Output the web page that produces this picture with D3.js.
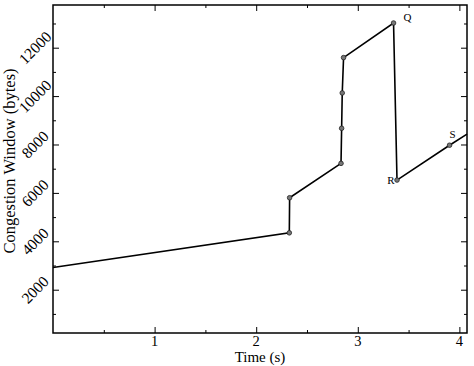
<!DOCTYPE html>
<html>
<head>
<meta charset="utf-8">
<script src="https://cdn.jsdelivr.net/npm/d3@7"></script>
<style>
  body { margin: 0; background: #fff; }
  svg text { font-family: "Liberation Serif", "Times New Roman", serif; fill: #000; }
</style>
</head>
<body>
<div id="container"></div>
<script>
// data
const times = [0, 2.326, 2.329, 2.835, 2.841, 2.847, 2.860, 3.352, 3.386, 3.903, 4.075];
const cwnd = [2920, 4350, 5800, 7220, 8670, 10130, 11590, 13020, 6530, 7970, 8430];
const marked = [1, 2, 3, 4, 5, 6, 7, 8, 9]; // indexes with a dot
const pointLabels = [
  { idx: 7, text: "Q", dx: 14, dy: -2 },
  { idx: 8, text: "R", dx: -6, dy: 4 },
  { idx: 9, text: "S", dx: 3, dy: -7 }
];
const xMajor = [1, 2, 3, 4];
const xMinor = [0.5, 1.5, 2.5, 3.5];
const yMajor = [2000, 4000, 6000, 8000, 10000, 12000];
const yMinor = [1000, 3000, 5000, 7000, 9000, 11000, 13000];

const W = 474, H = 366;
const pL = 53, pR = 467, pT = 5, pB = 333;

const x = d3.scaleLinear().domain([0, 4.075]).range([pL, pR]);
const y = d3.scaleLinear().domain([211, 13764]).range([pB, pT]);

const svg = d3.select("#container").append("svg")
  .attr("width", W).attr("height", H);

// frame
svg.append("rect")
  .attr("x", pL).attr("y", pT)
  .attr("width", pR - pL).attr("height", pB - pT)
  .attr("fill", "none").attr("stroke", "#000").attr("stroke-width", 1.5);

// ticks, all pointing inwards
const tickStyle = g => {
  g.select(".domain").remove();
  g.selectAll(".tick line").attr("stroke", "#000").attr("stroke-width", 1);
};
const tickSets = [
  [d3.axisTop, x, xMajor, 6, `translate(0,${pB})`],
  [d3.axisTop, x, xMinor, 3, `translate(0,${pB})`],
  [d3.axisBottom, x, xMajor, 6, `translate(0,${pT})`],
  [d3.axisBottom, x, xMinor, 3, `translate(0,${pT})`],
  [d3.axisRight, y, yMajor, 6, `translate(${pL},0)`],
  [d3.axisRight, y, yMinor, 3, `translate(${pL},0)`],
  [d3.axisLeft, y, yMajor, 6, `translate(${pR},0)`],
  [d3.axisLeft, y, yMinor, 3, `translate(${pR},0)`]
];
tickSets.forEach(([axis, scale, vals, size, tr]) => {
  svg.append("g").attr("transform", tr)
    .call(axis(scale).tickValues(vals).tickSize(size).tickFormat(""))
    .call(tickStyle);
});

// tick labels
svg.selectAll(".xlab").data(xMajor).enter().append("text")
  .attr("x", d => x(d)).attr("y", 346)
  .attr("text-anchor", "middle").attr("font-size", 14.5)
  .text(d => d);
svg.selectAll(".ylab").data(yMajor).enter().append("text")
  .attr("transform", d => `translate(35,${y(d)}) rotate(-45)`)
  .attr("text-anchor", "middle").attr("dy", "0.35em").attr("font-size", 15.5)
  .text(d => d);

// axis titles
svg.append("text").attr("x", (pL + pR) / 2).attr("y", 362)
  .attr("text-anchor", "middle").attr("font-size", 15).text("Time (s)");
svg.append("text")
  .attr("transform", `translate(15,161) rotate(-90)`)
  .attr("text-anchor", "middle").attr("font-size", 16.5)
  .text("Congestion Window (bytes)");

// series
const pts = times.map((t, i) => [t, cwnd[i]]);
svg.append("path").datum(pts)
  .attr("fill", "none").attr("stroke", "#000").attr("stroke-width", 1.6)
  .attr("d", d3.line().x(d => x(d[0])).y(d => y(d[1])));

svg.selectAll(".dot").data(marked).enter().append("circle")
  .attr("cx", i => x(times[i])).attr("cy", i => y(cwnd[i]))
  .attr("r", 2.3).attr("fill", "#777").attr("stroke", "#222").attr("stroke-width", 0.8);

svg.selectAll(".plab").data(pointLabels).enter().append("text")
  .attr("x", d => x(times[d.idx]) + d.dx).attr("y", d => y(cwnd[d.idx]) + d.dy)
  .attr("text-anchor", "middle").attr("font-size", 11)
  .text(d => d.text);
</script>
</body>
</html>
